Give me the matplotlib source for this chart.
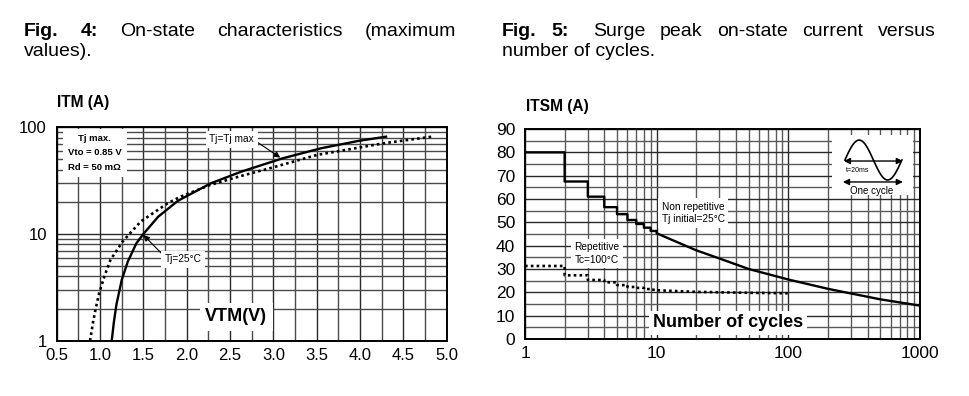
import matplotlib
matplotlib.use("Agg")
import matplotlib.pyplot as plt
import numpy as np

plt.rcParams["font.family"] = ["Liberation Sans", "DejaVu Sans"]

W, H = 969, 396

# ---- Fig. 4 data ----
vtm_25c = [1.135, 1.16, 1.19, 1.25, 1.32, 1.42, 1.50, 1.67, 1.90, 2.28, 2.63, 3.10, 3.55, 3.98, 4.30]
itm_25c = [1.0, 1.5, 2.2, 3.7, 5.5, 8.2, 10.0, 14.5, 20.5, 29.9, 38.4, 51.0, 63.6, 74.5, 81.7]
vtm_max = [0.885, 0.92, 0.95, 0.99, 1.05, 1.12, 1.26, 1.47, 1.78, 1.93, 2.27, 2.60, 3.00, 3.50, 4.27, 4.83]
itm_max = [1.0, 1.5, 2.0, 2.8, 4.0, 5.7, 8.5, 13.1, 19.4, 22.4, 28.8, 34.5, 42.2, 55.0, 70.8, 81.7]
vtm_ticks = [0.5, 1.0, 1.5, 2.0, 2.5, 3.0, 3.5, 4.0, 4.5, 5.0]

# ---- Fig. 5 data ----
step_cycles = [1, 2, 3, 4, 5, 6, 7, 8, 9, 10]
itsm_nonrep_steps = [80, 67.5, 61, 56.5, 53.5, 51, 49.3, 47.7, 46.3]
nonrep_cycles = [10, 20, 30, 50, 100, 200, 300, 500, 1000]
itsm_nonrep = [45.3, 38, 34.5, 30, 25.5, 21.5, 19.5, 17, 14.3]
itsm_rep_steps = [31.3, 27.3, 25.3, 24.3, 23.1, 22.3, 21.9, 21.4, 21.1]
rep_cycles = [10, 20, 50, 100]
itsm_rep = [20.9, 20.2, 19.8, 19.6]


def px(x, y):
    """pixel position (top-left origin) -> figure fraction"""
    return x / W, 1 - y / H


def staircase(xs, ys):
    sx = np.repeat(xs, 2)[1:-1]
    sy = np.repeat(ys, 2)
    return sx, sy


def justify(fig, words, x0, x1, y, size=14, extra=None):
    extra = extra or {}
    texts = [fig.text(0, 1 - y / H, w, fontsize=size, weight=wt, va="center")
             for w, wt in words]
    r = fig.canvas.get_renderer()
    widths = [t.get_window_extent(r).width for t in texts]
    gap = ((x1 - x0) - sum(widths) - sum(extra.values())) / (len(words) - 1)
    x = x0
    for i, (t, w) in enumerate(zip(texts, widths)):
        t.set_x(x / W)
        x += w + gap + extra.get(i, 0)


fig = plt.figure(figsize=(W / 100, H / 100), dpi=100)
fig.patch.set_facecolor("white")

grid_major = dict(color="#2a2a2a", lw=1.0)
grid_minor = dict(color="#4a4a4a", lw=1.0)

# ================= Fig. 4 =================
ax1 = fig.add_axes([56.7 / W, 1 - 340.7 / H, 390 / W, 213.4 / H])
ax1.set_yscale("log")
ax1.set_xlim(0.5, 5.0)
ax1.set_ylim(1, 100)
ax1.set_xticks(vtm_ticks)
ax1.set_xticklabels([f"{v:.1f}" for v in vtm_ticks])
ax1.set_xticks(np.arange(0.75, 5.0, 0.5), minor=True)
ax1.set_yticks([1, 10, 100])
ax1.set_yticklabels(["1", "10", "100"])
ax1.yaxis.set_minor_formatter(matplotlib.ticker.NullFormatter())
ax1.tick_params(which="both", length=0, labelsize=12)
ax1.tick_params(axis="x", pad=5)
ax1.tick_params(axis="y", pad=7)
ax1.grid(True, which="major", **grid_major)
ax1.grid(True, which="minor", **grid_minor)
ax1.set_axisbelow(True)
for s in ax1.spines.values():
    s.set_linewidth(1.4)

ax1.plot(vtm_25c, itm_25c, color="black", lw=1.7, zorder=3)
ax1.plot(vtm_max, itm_max, color="black", lw=1.9, ls=(0, (1, 1.2)), zorder=3)

box = dict(boxstyle="square,pad=0.35", fc="white", ec="none")
ax1.text(0.94, 57.5, "Tj max.\nVto = 0.85 V\nRd = 50 m\u03a9", fontsize=6.8, weight="bold",
         ha="center", va="center", linespacing=1.75, zorder=4,
         bbox=dict(boxstyle="square,pad=0.55", fc="white", ec="none"))
ax1.annotate("Tj=Tj max", xy=(3.08, 52), xytext=(2.52, 77.5), fontsize=7.3,
             ha="center", va="center", zorder=4, bbox=box,
             arrowprops=dict(arrowstyle="-|>", color="black", lw=0.8, mutation_scale=9,
                             shrinkA=0, shrinkB=0, relpos=(1.0, 0.4)))
ax1.annotate("Tj=25\u00b0C", xy=(1.5, 9.8), xytext=(1.96, 5.8), fontsize=7.3,
             ha="center", va="center", zorder=4, bbox=box,
             arrowprops=dict(arrowstyle="-|>", color="black", lw=0.8, mutation_scale=9,
                             shrinkA=0, shrinkB=0, relpos=(0.0, 0.75)))
ax1.text(2.57, 1.67, "VTM(V)", fontsize=13, weight="bold", ha="center", va="center",
         zorder=4, bbox=dict(boxstyle="square,pad=0.3", fc="white", ec="none"))
fig.text(*px(57, 103), "ITM (A)", fontsize=11.2, weight="bold", va="center")

# ================= Fig. 5 =================
ax2 = fig.add_axes([525 / W, 1 - 339 / H, 395 / W, 210 / H])
ax2.set_xscale("log")
ax2.set_xlim(1, 1000)
ax2.set_ylim(0, 90)
ax2.set_xticks([1, 10, 100, 1000])
ax2.set_xticklabels(["1", "10", "100", "1000"])
ax2.xaxis.set_minor_formatter(matplotlib.ticker.NullFormatter())
ax2.set_yticks(np.arange(0, 91, 10))
ax2.set_yticks(np.arange(5, 90, 10), minor=True)
ax2.tick_params(which="both", length=0, labelsize=12.5)
ax2.tick_params(axis="x", pad=5)
ax2.tick_params(axis="y", pad=7)
ax2.grid(True, which="major", **grid_major)
ax2.grid(True, which="minor", color="#5a5a5a", lw=1.0)
ax2.set_axisbelow(True)
for s in ax2.spines.values():
    s.set_linewidth(1.4)

sx, sy = staircase(step_cycles, itsm_nonrep_steps)
ax2.plot(list(sx) + nonrep_cycles, list(sy) + itsm_nonrep, color="black", lw=1.7, zorder=3)
sx, sy = staircase(step_cycles, itsm_rep_steps)
ax2.plot(list(sx) + rep_cycles, list(sy) + itsm_rep, color="black", lw=1.9,
         ls=(0, (1, 1.2)), zorder=3)

ax2.text(19, 53.9, "Non repetitive\nTj initial=25\u00b0C", fontsize=7.3, ha="center",
         va="center", zorder=4, linespacing=1.3, bbox=box)
ax2.text(3.5, 36.7, "Repetitive\nTc=100\u00b0C", fontsize=7.3, ha="center",
         va="center", zorder=4, linespacing=1.3, bbox=box)
ax2.text(34.8, 6.9, "Number of cycles", fontsize=13, weight="bold", ha="center",
         va="center", zorder=4, bbox=dict(boxstyle="square,pad=0.2", fc="white", ec="none"))
fig.text(*px(526, 106), "ITSM (A)", fontsize=11.2, weight="bold", va="center")

# inset sketch: one sine cycle
ins = ax2.inset_axes([0.777, 0.686, 0.205, 0.285])
ins.set_facecolor("white")
ins.set_xlim(0, 81)
ins.set_ylim(60, 0)
for s in ins.spines.values():
    s.set_visible(False)
ins.set_xticks([])
ins.set_yticks([])
t = np.linspace(0, 1, 100)
ins.plot(13 + 57 * t, 25 - 20 * np.sin(2 * np.pi * t), color="black", lw=1.2)
arrow = dict(arrowstyle="<|-|>", color="black", lw=1.0, mutation_scale=9,
             shrinkA=0, shrinkB=0)
ins.annotate("", xy=(12, 26), xytext=(71, 26), arrowprops=arrow)
ins.annotate("", xy=(11, 47), xytext=(71, 47), arrowprops=arrow)
ins.text(26, 35, "t=20ms", fontsize=5, ha="center", va="center")
ins.text(40, 56, "One cycle", fontsize=7, ha="center", va="center")

# ================= captions =================
justify(fig, [("Fig.", "bold"), ("4:", "bold"), ("On-state", "normal"),
              ("characteristics", "normal"), ("(maximum", "normal")], 24, 456, 31)
fig.text(24 / W, 1 - 51 / H, "values).", fontsize=14, va="center")
justify(fig, [("Fig.", "bold"), ("5:", "bold"), ("Surge", "normal"), ("peak", "normal"),
              ("on-state", "normal"), ("current", "normal"), ("versus", "normal")],
        502, 936, 31, extra={1: 10})
fig.text(502 / W, 1 - 51 / H, "number of cycles.", fontsize=14, va="center")

fig.savefig("out.png", dpi=100)
